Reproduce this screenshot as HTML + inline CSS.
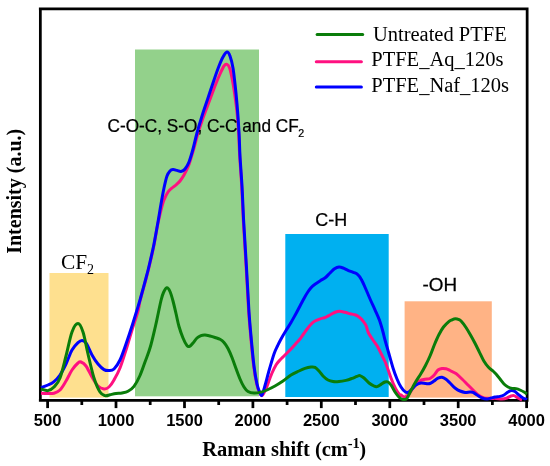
<!DOCTYPE html>
<html><head><meta charset="utf-8"><title>Raman spectra</title>
<style>
html,body{margin:0;padding:0;background:#fff}
body{width:550px;height:466px;overflow:hidden}
svg{display:block}
.serif{font-family:"Liberation Serif","DejaVu Serif",serif}
.sans{font-family:"Liberation Sans","DejaVu Sans",sans-serif}
</style></head><body>
<svg width="550" height="466" viewBox="0 0 550 466">
<rect x="0" y="0" width="550" height="466" fill="#fff"/>
<!-- highlighted bands -->
<rect x="49.5" y="273" width="59" height="124.6" fill="#FEE08F"/>
<rect x="135" y="49.5" width="124" height="346.8" fill="#93D18B"/>
<rect x="285.3" y="234" width="103.4" height="163" fill="#00B0F0"/>
<rect x="404.6" y="301.3" width="87.2" height="96.3" fill="#FFB385"/>
<!-- frame -->
<g stroke="#000" stroke-width="2.75" fill="none">
<path d="M40.35 7.5V401.7M38.9 8.9H528.3M527.15 7.5V401.7M38.9 400.25H528.3"/>
</g>
<!-- curves -->
<g fill="none" stroke-width="3" stroke-linejoin="round" stroke-linecap="butt">
<path stroke="#FF1080" d="M41.0 393.2C42.2 393.3 45.8 393.6 48.0 393.6C50.2 393.6 52.0 393.8 54.0 393.2C56.0 392.6 58.0 392.0 60.0 390.0C62.0 388.0 64.0 384.3 66.0 381.0C68.0 377.7 70.0 373.0 72.0 370.0C74.0 367.0 76.5 364.3 78.0 363.0C79.5 361.7 79.7 361.5 81.0 362.0C82.3 362.5 84.2 363.5 86.0 366.0C87.8 368.5 90.0 373.7 92.0 377.0C94.0 380.3 96.0 384.0 98.0 386.0C100.0 388.0 102.2 388.8 104.0 389.0C105.8 389.2 107.3 388.5 109.0 387.0C110.7 385.5 112.2 383.2 114.0 380.0C115.8 376.8 118.0 373.0 120.0 368.0C122.0 363.0 124.0 356.3 126.0 350.0C128.0 343.7 130.0 336.5 132.0 330.0C134.0 323.5 136.7 315.8 138.0 311.0C139.3 306.2 138.7 306.3 140.0 301.0C141.3 295.7 144.3 285.3 146.0 279.0C147.7 272.7 148.7 268.7 150.0 263.0C151.3 257.3 152.7 251.7 154.0 245.0C155.3 238.3 156.8 228.8 158.0 223.0C159.2 217.2 160.0 213.8 161.0 210.0C162.0 206.2 162.8 203.0 164.0 200.0C165.2 197.0 166.7 194.0 168.0 192.0C169.3 190.0 170.7 189.2 172.0 188.0C173.3 186.8 174.7 186.2 176.0 185.0C177.3 183.8 178.7 182.7 180.0 181.0C181.3 179.3 182.7 177.3 184.0 175.0C185.3 172.7 186.8 169.8 188.0 167.0C189.2 164.2 190.0 161.2 191.0 158.0C192.0 154.8 192.8 152.2 194.0 148.0C195.2 143.8 196.5 138.0 198.0 133.0C199.5 128.0 201.2 123.2 203.0 118.0C204.8 112.8 207.0 107.3 209.0 102.0C211.0 96.7 213.2 90.7 215.0 86.0C216.8 81.3 218.5 77.3 220.0 74.0C221.5 70.7 222.8 67.6 224.0 66.0C225.2 64.4 226.1 64.1 227.0 64.4C227.9 64.7 228.8 65.7 229.6 68.0C230.4 70.3 231.2 74.0 232.0 78.0C232.8 82.0 233.6 86.3 234.4 92.0C235.2 97.7 236.3 105.3 237.0 112.0C237.7 118.7 238.2 124.7 238.6 132.0C239.0 139.3 239.2 147.0 239.7 156.0C240.2 165.0 241.1 175.3 241.7 186.0C242.3 196.7 242.6 206.7 243.3 220.0C244.0 233.3 245.2 250.7 246.1 266.0C247.0 281.3 247.9 300.3 248.7 312.0C249.5 323.7 249.9 327.0 250.7 336.0C251.5 345.0 252.7 358.0 253.7 366.0C254.7 374.0 255.7 379.5 256.7 384.0C257.7 388.5 258.8 391.1 259.7 393.0C260.6 394.9 261.1 395.9 262.0 395.6C262.9 395.3 264.1 392.7 265.0 391.0C265.9 389.3 266.2 388.4 267.3 385.5C268.4 382.6 270.3 377.0 271.8 373.5C273.3 370.0 274.9 366.8 276.3 364.5C277.7 362.2 278.6 361.5 280.0 360.0C281.4 358.5 282.8 357.2 284.5 355.5C286.2 353.8 288.5 351.6 290.5 349.5C292.5 347.4 294.9 344.6 296.5 342.8C298.1 341.1 298.8 340.5 300.0 339.0C301.2 337.5 302.2 335.8 303.5 334.0C304.8 332.2 306.2 330.1 307.5 328.5C308.8 326.9 309.8 325.4 311.0 324.2C312.2 322.9 313.4 321.9 315.0 321.0C316.6 320.1 318.6 319.4 320.3 318.8C322.1 318.2 323.9 317.9 325.5 317.3C327.1 316.7 328.5 315.8 330.0 315.0C331.5 314.2 332.9 313.1 334.5 312.5C336.1 311.9 338.1 311.3 339.8 311.3C341.6 311.3 343.2 311.9 345.0 312.3C346.8 312.7 348.6 313.4 350.3 313.8C352.1 314.2 354.0 314.4 355.5 315.0C357.0 315.6 358.1 316.3 359.3 317.3C360.6 318.3 361.9 319.6 363.0 321.0C364.1 322.4 365.1 323.5 366.0 325.5C366.9 327.5 367.3 330.6 368.5 333.0C369.7 335.4 371.5 337.8 373.0 340.0C374.5 342.2 376.2 344.2 377.5 346.5C378.8 348.8 379.8 351.0 381.0 353.5C382.2 356.0 383.8 358.8 385.0 361.5C386.2 364.2 387.0 366.8 388.0 369.5C389.0 372.2 389.8 374.8 391.0 378.0C392.2 381.2 394.0 385.6 395.5 388.5C397.0 391.4 399.1 394.2 400.0 395.3C400.9 396.4 400.3 394.7 401.0 395.0C401.7 395.3 403.2 397.0 404.4 397.0C405.6 397.0 406.7 396.2 408.0 395.0C409.3 393.8 410.7 391.3 412.0 389.5C413.3 387.7 414.7 385.5 416.0 384.0C417.3 382.5 418.5 381.5 420.0 380.7C421.5 379.9 423.3 379.7 425.0 379.3C426.7 378.9 428.5 379.2 430.0 378.5C431.5 377.8 432.7 376.7 434.0 375.3C435.3 373.9 436.7 371.1 438.0 370.0C439.3 368.9 440.7 368.7 442.0 368.5C443.3 368.3 444.7 368.5 446.0 368.8C447.3 369.1 448.3 369.7 450.0 370.5C451.7 371.3 454.0 372.2 456.0 373.6C458.0 375.0 460.0 377.1 462.0 379.0C464.0 380.9 466.0 383.0 468.0 385.0C470.0 387.0 472.2 389.2 474.0 391.0C475.8 392.8 477.3 394.4 479.0 395.6C480.7 396.8 482.2 397.5 484.0 398.0C485.8 398.5 488.0 398.3 490.0 398.4C492.0 398.5 494.0 398.3 496.0 398.4C498.0 398.5 500.2 399.1 502.0 399.0C503.8 398.9 505.5 398.5 507.0 398.0C508.5 397.5 509.8 396.4 511.0 396.0C512.2 395.6 512.8 395.3 514.0 395.6C515.2 395.9 516.7 397.3 518.0 398.0C519.3 398.7 521.3 399.7 522.0 400.0"/>
<path stroke="#0000FF" d="M41.0 387.6C42.2 387.2 45.8 386.0 48.0 385.0C50.2 384.0 52.0 383.3 54.0 381.6C56.0 379.9 58.0 377.9 60.0 375.0C62.0 372.1 64.0 368.2 66.0 364.0C68.0 359.8 70.0 353.6 72.0 350.0C74.0 346.4 76.3 344.2 78.0 342.6C79.7 341.0 80.9 340.3 82.3 340.5C83.7 340.7 84.9 341.2 86.5 343.6C88.1 346.0 90.1 351.6 92.0 355.0C93.9 358.4 96.0 361.6 98.0 364.0C100.0 366.4 102.2 368.5 104.0 369.6C105.8 370.7 107.3 370.7 109.0 370.6C110.7 370.5 112.2 370.8 114.0 369.0C115.8 367.2 118.0 364.2 120.0 360.0C122.0 355.8 124.0 349.7 126.0 344.0C128.0 338.3 130.2 331.7 132.0 326.0C133.8 320.3 135.7 314.3 137.0 310.0C138.3 305.7 138.5 305.3 140.0 300.0C141.5 294.7 144.3 284.3 146.0 278.0C147.7 271.7 148.7 267.7 150.0 262.0C151.3 256.3 152.7 250.7 154.0 244.0C155.3 237.3 156.8 228.7 158.0 222.0C159.2 215.3 160.0 209.7 161.0 204.0C162.0 198.3 163.0 192.7 164.0 188.0C165.0 183.3 166.0 178.8 167.0 176.0C168.0 173.2 169.0 172.1 170.0 171.0C171.0 169.9 171.8 169.7 173.0 169.6C174.2 169.5 175.7 170.1 177.0 170.4C178.3 170.7 179.7 171.6 181.0 171.4C182.3 171.2 183.7 170.6 185.0 169.0C186.3 167.4 187.7 165.3 189.0 162.0C190.3 158.7 191.7 153.8 193.0 149.0C194.3 144.2 195.5 138.5 197.0 133.0C198.5 127.5 200.2 121.8 202.0 116.0C203.8 110.2 206.0 104.0 208.0 98.0C210.0 92.0 212.2 85.3 214.0 80.0C215.8 74.7 217.5 69.8 219.0 66.0C220.5 62.2 221.7 59.3 223.0 57.0C224.3 54.7 225.8 52.2 227.0 52.0C228.2 51.8 229.0 53.3 230.0 56.0C231.0 58.7 232.2 63.3 233.0 68.0C233.8 72.7 234.3 78.0 235.0 84.0C235.7 90.0 236.3 96.0 237.0 104.0C237.7 112.0 238.5 123.3 239.0 132.0C239.5 140.7 239.5 147.0 240.0 156.0C240.5 165.0 241.4 175.3 242.0 186.0C242.6 196.7 242.9 206.7 243.6 220.0C244.3 233.3 245.5 250.7 246.4 266.0C247.3 281.3 248.2 300.3 249.0 312.0C249.8 323.7 250.2 327.0 251.0 336.0C251.8 345.0 253.0 358.0 254.0 366.0C255.0 374.0 256.0 379.5 257.0 384.0C258.0 388.5 259.2 391.2 260.0 393.0C260.8 394.8 261.2 396.2 262.0 395.0C262.8 393.8 263.8 389.8 265.0 385.5C266.2 381.2 268.0 374.2 269.5 369.0C271.0 363.8 272.7 357.8 274.0 354.0C275.3 350.2 276.4 348.3 277.5 346.0C278.6 343.7 279.1 342.6 280.5 340.0C281.9 337.4 284.2 333.4 286.0 330.5C287.8 327.6 289.4 325.2 291.0 322.5C292.6 319.8 294.0 317.2 295.5 314.5C297.0 311.8 298.6 308.7 300.0 306.0C301.4 303.3 302.8 300.8 304.0 298.5C305.2 296.2 306.3 294.3 307.5 292.5C308.7 290.7 309.8 289.2 311.0 287.8C312.2 286.4 313.4 285.5 315.0 284.3C316.6 283.1 318.6 281.8 320.3 280.7C322.1 279.6 323.9 278.8 325.5 277.5C327.1 276.2 328.5 274.4 330.0 273.0C331.5 271.6 333.0 269.8 334.5 268.8C336.0 267.8 337.5 267.1 339.0 267.0C340.5 266.9 342.0 267.6 343.5 268.2C345.0 268.8 346.4 269.6 348.0 270.3C349.6 271.0 351.7 271.6 353.3 272.3C354.9 273.0 356.4 273.4 357.8 274.7C359.2 275.9 360.1 277.3 361.5 279.8C362.9 282.3 364.5 286.1 366.0 289.5C367.5 292.9 369.0 296.6 370.5 300.0C372.0 303.4 373.5 306.4 375.0 309.8C376.5 313.2 378.2 316.6 379.5 320.3C380.8 324.0 382.1 328.7 383.0 332.0C383.9 335.3 384.0 336.3 385.0 340.0C386.0 343.7 387.7 349.3 389.0 354.0C390.3 358.7 391.7 363.8 393.0 368.0C394.3 372.2 395.7 375.8 397.0 379.0C398.3 382.2 399.7 384.9 401.0 387.0C402.3 389.1 403.8 390.7 405.0 391.6C406.2 392.5 406.8 392.8 408.0 392.4C409.2 392.0 410.7 390.2 412.0 389.0C413.3 387.8 414.5 386.0 416.0 385.0C417.5 384.0 419.3 383.2 421.0 383.0C422.7 382.8 424.5 383.5 426.0 383.6C427.5 383.7 428.7 383.9 430.0 383.5C431.3 383.1 432.7 381.9 434.0 381.0C435.3 380.1 436.7 378.8 438.0 378.2C439.3 377.6 440.7 377.1 442.0 377.3C443.3 377.5 444.7 378.4 446.0 379.3C447.3 380.2 448.5 381.6 450.0 383.0C451.5 384.4 453.3 386.7 455.0 388.0C456.7 389.3 458.3 390.3 460.0 391.0C461.7 391.7 463.3 392.2 465.0 392.4C466.7 392.6 468.7 392.0 470.0 392.0C471.3 392.0 471.8 391.9 473.0 392.4C474.2 392.9 475.5 394.1 477.0 395.0C478.5 395.9 480.3 397.3 482.0 398.0C483.7 398.7 485.5 399.0 487.0 399.0C488.5 399.0 489.7 398.3 491.0 398.0C492.3 397.7 493.5 397.3 495.0 397.0C496.5 396.7 498.5 396.7 500.0 396.4C501.5 396.1 502.7 395.7 504.0 395.0C505.3 394.3 506.7 392.8 508.0 392.0C509.3 391.2 510.4 390.5 511.6 390.4C512.8 390.3 513.8 390.8 515.0 391.6C516.2 392.4 517.7 393.9 519.0 395.0C520.3 396.1 521.7 397.2 523.0 398.0C524.3 398.8 526.3 399.3 527.0 399.6"/>
<path stroke="#0A7D0A" d="M41.0 389.0C42.2 389.3 45.8 390.9 48.0 390.6C50.2 390.3 52.0 389.1 54.0 387.0C56.0 384.9 58.0 383.2 60.0 378.0C62.0 372.8 64.0 363.7 66.0 356.0C68.0 348.3 70.0 337.4 72.0 332.0C74.0 326.6 76.2 323.6 78.0 323.6C79.8 323.6 81.3 326.9 83.0 332.0C84.7 337.1 86.2 346.3 88.0 354.0C89.8 361.7 92.0 371.7 94.0 378.0C96.0 384.3 98.2 389.1 100.0 392.0C101.8 394.9 103.3 395.1 105.0 395.6C106.7 396.1 108.2 395.2 110.0 394.8C111.8 394.4 114.0 393.8 116.0 393.5C118.0 393.2 120.0 393.4 122.0 393.0C124.0 392.6 126.0 392.4 128.0 391.3C130.0 390.2 132.0 388.9 134.0 386.3C136.0 383.7 138.2 379.6 140.0 375.5C141.8 371.4 143.3 366.8 145.0 362.0C146.7 357.2 148.6 353.0 150.3 347.0C152.1 341.0 154.1 331.8 155.5 326.0C156.9 320.2 157.6 316.2 158.5 312.0C159.4 307.8 160.2 303.8 161.0 300.5C161.8 297.2 162.5 294.6 163.5 292.5C164.5 290.4 165.7 288.0 166.8 287.8C167.9 287.6 169.0 289.3 170.0 291.5C171.0 293.7 172.0 297.3 173.0 301.0C174.0 304.7 175.0 309.2 176.0 313.5C177.0 317.8 177.8 322.4 179.0 326.5C180.2 330.6 181.7 334.8 183.0 338.0C184.3 341.2 185.9 344.2 187.0 345.6C188.1 347.0 188.6 346.8 189.6 346.4C190.6 346.0 191.8 344.4 193.0 343.0C194.2 341.6 195.7 339.2 197.0 338.0C198.3 336.8 199.7 336.1 201.0 335.6C202.3 335.1 203.5 334.9 205.0 335.0C206.5 335.1 208.3 335.6 210.0 336.0C211.7 336.4 213.3 336.9 215.0 337.5C216.7 338.1 218.5 338.5 220.0 339.3C221.5 340.1 222.7 341.0 224.0 342.5C225.3 344.0 226.7 346.0 228.0 348.5C229.3 351.0 230.7 354.2 232.0 357.5C233.3 360.8 234.7 364.9 236.0 368.5C237.3 372.1 238.7 375.9 240.0 379.0C241.3 382.1 242.7 384.9 244.0 387.0C245.3 389.1 246.3 390.5 248.0 391.5C249.7 392.5 252.0 392.9 254.0 393.0C256.0 393.1 257.8 392.9 260.0 392.4C262.2 391.9 264.5 391.1 267.0 390.0C269.5 388.9 272.3 387.5 275.0 386.0C277.7 384.5 280.3 382.8 283.0 381.0C285.7 379.2 288.3 376.7 291.0 375.0C293.7 373.3 296.7 372.1 299.0 371.0C301.3 369.9 303.0 369.1 305.0 368.4C307.0 367.7 309.3 367.2 311.0 367.0C312.7 366.8 313.7 366.7 315.0 367.4C316.3 368.1 317.7 369.6 319.0 371.0C320.3 372.4 321.5 374.5 323.0 376.0C324.5 377.5 326.3 379.1 328.0 380.0C329.7 380.9 331.2 381.3 333.0 381.6C334.8 381.9 336.8 381.8 339.0 381.6C341.2 381.4 343.8 380.9 346.0 380.4C348.2 379.9 350.2 379.1 352.0 378.4C353.8 377.7 355.7 376.9 357.0 376.4C358.3 375.9 358.8 375.3 360.0 375.6C361.2 375.9 362.5 376.8 364.0 378.0C365.5 379.2 367.3 381.7 369.0 383.0C370.7 384.3 372.7 385.4 374.0 386.0C375.3 386.6 375.8 386.9 377.0 386.6C378.2 386.3 379.7 385.2 381.0 384.4C382.3 383.6 383.8 382.4 385.0 382.0C386.2 381.6 387.0 381.5 388.0 382.0C389.0 382.5 389.8 383.3 391.0 385.0C392.2 386.7 393.6 389.9 395.0 392.0C396.4 394.1 398.0 396.3 399.3 397.5C400.6 398.7 401.8 399.2 403.0 399.4C404.2 399.6 405.5 400.0 406.8 398.5C408.1 397.0 409.6 393.1 411.0 390.5C412.4 387.9 413.3 385.8 415.0 383.0C416.7 380.2 419.2 376.4 421.0 373.5C422.8 370.6 424.0 368.4 425.5 365.5C427.0 362.6 428.5 359.5 430.0 356.0C431.5 352.5 433.0 348.1 434.5 344.5C436.0 340.9 437.5 337.4 439.0 334.5C440.5 331.6 441.9 329.1 443.5 327.0C445.1 324.9 447.4 322.8 448.8 321.6C450.2 320.4 450.9 320.3 452.0 319.8C453.1 319.3 454.3 318.8 455.5 318.8C456.7 318.8 458.0 319.2 459.0 319.6C460.0 320.1 460.3 320.2 461.5 321.5C462.7 322.8 464.5 325.2 466.0 327.5C467.5 329.8 469.0 332.4 470.5 335.0C472.0 337.6 473.5 340.4 475.0 343.3C476.5 346.2 478.0 349.3 479.5 352.3C481.0 355.3 482.5 358.8 484.0 361.3C485.5 363.8 487.0 365.7 488.5 367.3C490.0 368.9 491.8 369.9 493.0 371.0C494.2 372.1 494.8 372.7 496.0 374.0C497.2 375.3 498.7 377.3 500.0 379.0C501.3 380.7 502.7 382.7 504.0 384.0C505.3 385.3 506.7 386.3 508.0 387.0C509.3 387.7 510.7 388.1 512.0 388.4C513.3 388.7 514.7 388.3 516.0 388.6C517.3 388.9 518.7 389.4 520.0 390.0C521.3 390.6 522.8 391.3 524.0 392.0C525.2 392.7 526.5 393.7 527.0 394.0"/>
</g>
<g stroke="#000" stroke-width="2.75"><line x1="47.6" y1="400" x2="47.6" y2="408.1"/><line x1="81.8" y1="400" x2="81.8" y2="405"/><line x1="116.0" y1="400" x2="116.0" y2="408.1"/><line x1="150.2" y1="400" x2="150.2" y2="405"/><line x1="184.5" y1="400" x2="184.5" y2="408.1"/><line x1="218.7" y1="400" x2="218.7" y2="405"/><line x1="252.9" y1="400" x2="252.9" y2="408.1"/><line x1="287.1" y1="400" x2="287.1" y2="405"/><line x1="321.3" y1="400" x2="321.3" y2="408.1"/><line x1="355.5" y1="400" x2="355.5" y2="405"/><line x1="389.8" y1="400" x2="389.8" y2="408.1"/><line x1="424.0" y1="400" x2="424.0" y2="405"/><line x1="458.2" y1="400" x2="458.2" y2="408.1"/><line x1="492.4" y1="400" x2="492.4" y2="405"/><line x1="526.6" y1="400" x2="526.6" y2="408.1"/></g>
<!-- band labels -->
<g class="sans" font-size="18.3" fill="#000" stroke="#000" stroke-width="0.25">
<text transform="translate(107.6,132) scale(0.94,1)">C-O-C, S-O, C-C and CF<tspan font-size="11.3" dy="4.5" dx="-0.4">2</tspan></text>
<text transform="translate(315.3,226.4) scale(0.98,1)">C-H</text>
<text transform="translate(422.5,290.7) scale(1.03,1)">-OH</text>
</g>
<text class="serif" font-size="21.4" x="60.9" y="269.2">CF<tspan font-size="14" dy="4.3">2</tspan></text>
<g class="sans" font-size="16.5" font-weight="bold" text-anchor="middle" fill="#000"><text x="47.6" y="425.6">500</text><text x="116.0" y="425.6">1000</text><text x="184.5" y="425.6">1500</text><text x="252.9" y="425.6">2000</text><text x="321.3" y="425.6">2500</text><text x="389.8" y="425.6">3000</text><text x="458.2" y="425.6">3500</text><text x="526.6" y="425.6">4000</text></g>
<text class="serif" font-size="20.5" font-weight="bold" x="202.2" y="455.8">Raman shift (cm<tspan font-size="14.5" dy="-7.6" dx="-0.3">-1</tspan><tspan dy="7.6" dx="-0.5">)</tspan></text>
<text class="serif" font-size="20" font-weight="bold" transform="translate(21.3,253.8) rotate(-90)">Intensity (a.u.)</text>
<!-- legend -->
<g stroke-width="3" fill="none" stroke-linecap="round">
<line x1="317.1" y1="34.6" x2="362.7" y2="34.6" stroke="#0A7D0A"/>
<line x1="316.3" y1="61.8" x2="361.4" y2="61.8" stroke="#FF1080"/>
<line x1="316.3" y1="87" x2="361.4" y2="87" stroke="#0000FF"/>
</g>
<g class="serif" font-size="20.5" fill="#000">
<text x="372.9" y="41.4">Untreated PTFE</text>
<text x="371.3" y="66.4">PTFE_Aq_120s</text>
<text x="371.3" y="92.3">PTFE_Naf_120s</text>
</g>
</svg>
</body></html>
